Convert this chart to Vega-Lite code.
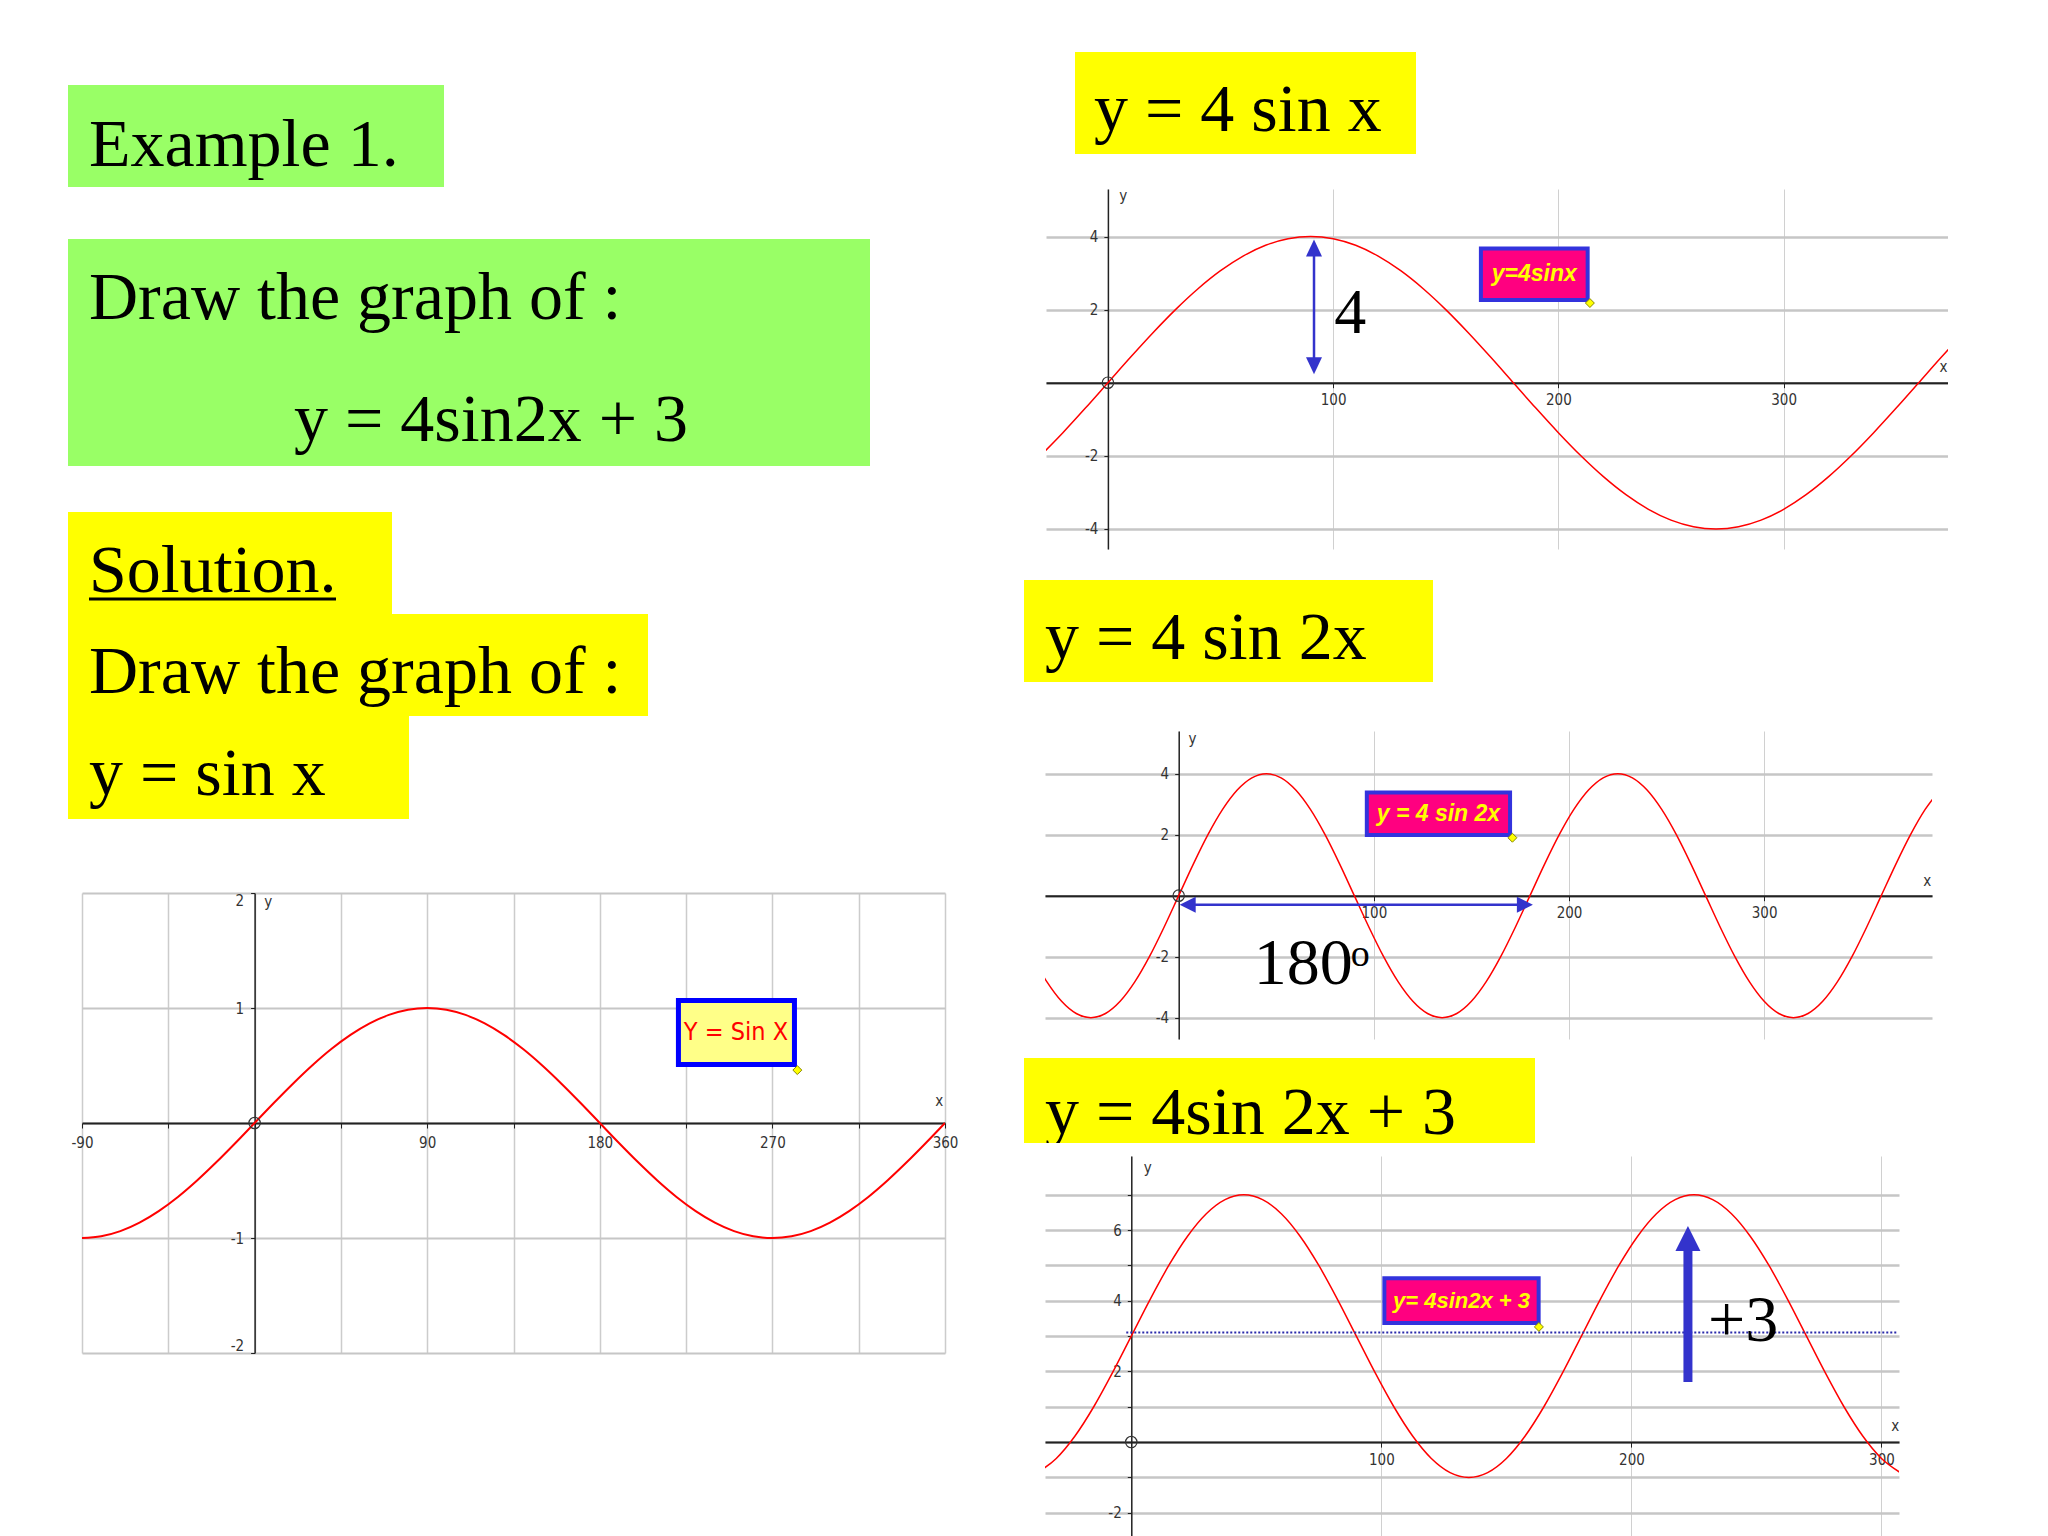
{
  "$schema": "https://vega.github.io/schema/vega-lite/v6.json",
  "padding": 0,
  "background": "white",
  "spacing": 0,
  "config": {
    "view": {"stroke": null},
    "concat": {"spacing": 0},
    "axis": {"labelFont": "DejaVu Sans Condensed", "labelFontSize": 15, "labelColor": "#333333", "tickColor": "#222222", "domainColor": "#222222", "labelOverlap": false, "tickSize": 5, "labelPadding": 6}
  },
  "data": {"values": [{}]},
  "datasets": {
    "sinx": [
      {"x": -90, "y": -1}, {"x": -80, "y": -0.985}, {"x": -70, "y": -0.94}, {"x": -60, "y": -0.866}, {"x": -50, "y": -0.766}, {"x": -40, "y": -0.643}, {"x": -30, "y": -0.5}, {"x": -20, "y": -0.342}, {"x": -10, "y": -0.174},
      {"x": 0, "y": 0}, {"x": 10, "y": 0.174}, {"x": 20, "y": 0.342}, {"x": 30, "y": 0.5}, {"x": 40, "y": 0.643}, {"x": 50, "y": 0.766}, {"x": 60, "y": 0.866}, {"x": 70, "y": 0.94}, {"x": 80, "y": 0.985}, {"x": 90, "y": 1},
      {"x": 100, "y": 0.985}, {"x": 110, "y": 0.94}, {"x": 120, "y": 0.866}, {"x": 130, "y": 0.766}, {"x": 140, "y": 0.643}, {"x": 150, "y": 0.5}, {"x": 160, "y": 0.342}, {"x": 170, "y": 0.174}, {"x": 180, "y": 0},
      {"x": 190, "y": -0.174}, {"x": 200, "y": -0.342}, {"x": 210, "y": -0.5}, {"x": 220, "y": -0.643}, {"x": 230, "y": -0.766}, {"x": 240, "y": -0.866}, {"x": 250, "y": -0.94}, {"x": 260, "y": -0.985}, {"x": 270, "y": -1},
      {"x": 280, "y": -0.985}, {"x": 290, "y": -0.94}, {"x": 300, "y": -0.866}, {"x": 310, "y": -0.766}, {"x": 320, "y": -0.643}, {"x": 330, "y": -0.5}, {"x": 340, "y": -0.342}, {"x": 350, "y": -0.174}, {"x": 360, "y": 0}
    ],
    "s4x": [
      {"x": -30, "y": -2}, {"x": -20, "y": -1.368}, {"x": -10, "y": -0.695}, {"x": 0, "y": 0}, {"x": 10, "y": 0.695}, {"x": 20, "y": 1.368}, {"x": 30, "y": 2}, {"x": 40, "y": 2.571}, {"x": 50, "y": 3.064}, {"x": 60, "y": 3.464},
      {"x": 70, "y": 3.759}, {"x": 80, "y": 3.939}, {"x": 90, "y": 4}, {"x": 100, "y": 3.939}, {"x": 110, "y": 3.759}, {"x": 120, "y": 3.464}, {"x": 130, "y": 3.064}, {"x": 140, "y": 2.571}, {"x": 150, "y": 2}, {"x": 160, "y": 1.368},
      {"x": 170, "y": 0.695}, {"x": 180, "y": 0}, {"x": 190, "y": -0.695}, {"x": 200, "y": -1.368}, {"x": 210, "y": -2}, {"x": 220, "y": -2.571}, {"x": 230, "y": -3.064}, {"x": 240, "y": -3.464}, {"x": 250, "y": -3.759}, {"x": 260, "y": -3.939},
      {"x": 270, "y": -4}, {"x": 280, "y": -3.939}, {"x": 290, "y": -3.759}, {"x": 300, "y": -3.464}, {"x": 310, "y": -3.064}, {"x": 320, "y": -2.571}, {"x": 330, "y": -2}, {"x": 340, "y": -1.368}, {"x": 350, "y": -0.695}, {"x": 360, "y": 0},
      {"x": 370, "y": 0.695}, {"x": 380, "y": 1.368}
    ],
    "s42x": [
      {"x": -75, "y": -2}, {"x": -67.5, "y": -2.828}, {"x": -60, "y": -3.464}, {"x": -52.5, "y": -3.864}, {"x": -45, "y": -4}, {"x": -37.5, "y": -3.864}, {"x": -30, "y": -3.464}, {"x": -22.5, "y": -2.828}, {"x": -15, "y": -2}, {"x": -7.5, "y": -1.035},
      {"x": 0, "y": 0}, {"x": 7.5, "y": 1.035}, {"x": 15, "y": 2}, {"x": 22.5, "y": 2.828}, {"x": 30, "y": 3.464}, {"x": 37.5, "y": 3.864}, {"x": 45, "y": 4}, {"x": 52.5, "y": 3.864}, {"x": 60, "y": 3.464}, {"x": 67.5, "y": 2.828},
      {"x": 75, "y": 2}, {"x": 82.5, "y": 1.035}, {"x": 90, "y": 0}, {"x": 97.5, "y": -1.035}, {"x": 105, "y": -2}, {"x": 112.5, "y": -2.828}, {"x": 120, "y": -3.464}, {"x": 127.5, "y": -3.864}, {"x": 135, "y": -4}, {"x": 142.5, "y": -3.864},
      {"x": 150, "y": -3.464}, {"x": 157.5, "y": -2.828}, {"x": 165, "y": -2}, {"x": 172.5, "y": -1.035}, {"x": 180, "y": 0}, {"x": 187.5, "y": 1.035}, {"x": 195, "y": 2}, {"x": 202.5, "y": 2.828}, {"x": 210, "y": 3.464}, {"x": 217.5, "y": 3.864},
      {"x": 225, "y": 4}, {"x": 232.5, "y": 3.864}, {"x": 240, "y": 3.464}, {"x": 247.5, "y": 2.828}, {"x": 255, "y": 2}, {"x": 262.5, "y": 1.035}, {"x": 270, "y": 0}, {"x": 277.5, "y": -1.035}, {"x": 285, "y": -2}, {"x": 292.5, "y": -2.828},
      {"x": 300, "y": -3.464}, {"x": 307.5, "y": -3.864}, {"x": 315, "y": -4}, {"x": 322.5, "y": -3.864}, {"x": 330, "y": -3.464}, {"x": 337.5, "y": -2.828}, {"x": 345, "y": -2}, {"x": 352.5, "y": -1.035}, {"x": 360, "y": 0}, {"x": 367.5, "y": 1.035},
      {"x": 375, "y": 2}, {"x": 382.5, "y": 2.828}, {"x": 390, "y": 3.464}
    ],
    "s42x3": [
      {"x": -37.5, "y": -0.864}, {"x": -30, "y": -0.464}, {"x": -22.5, "y": 0.172}, {"x": -15, "y": 1}, {"x": -7.5, "y": 1.965}, {"x": 0, "y": 3}, {"x": 7.5, "y": 4.035}, {"x": 15, "y": 5}, {"x": 22.5, "y": 5.828}, {"x": 30, "y": 6.464},
      {"x": 37.5, "y": 6.864}, {"x": 45, "y": 7}, {"x": 52.5, "y": 6.864}, {"x": 60, "y": 6.464}, {"x": 67.5, "y": 5.828}, {"x": 75, "y": 5}, {"x": 82.5, "y": 4.035}, {"x": 90, "y": 3}, {"x": 97.5, "y": 1.965}, {"x": 105, "y": 1},
      {"x": 112.5, "y": 0.172}, {"x": 120, "y": -0.464}, {"x": 127.5, "y": -0.864}, {"x": 135, "y": -1}, {"x": 142.5, "y": -0.864}, {"x": 150, "y": -0.464}, {"x": 157.5, "y": 0.172}, {"x": 165, "y": 1}, {"x": 172.5, "y": 1.965}, {"x": 180, "y": 3},
      {"x": 187.5, "y": 4.035}, {"x": 195, "y": 5}, {"x": 202.5, "y": 5.828}, {"x": 210, "y": 6.464}, {"x": 217.5, "y": 6.864}, {"x": 225, "y": 7}, {"x": 232.5, "y": 6.864}, {"x": 240, "y": 6.464}, {"x": 247.5, "y": 5.828}, {"x": 255, "y": 5},
      {"x": 262.5, "y": 4.035}, {"x": 270, "y": 3}, {"x": 277.5, "y": 1.965}, {"x": 285, "y": 1}, {"x": 292.5, "y": 0.172}, {"x": 300, "y": -0.464}, {"x": 307.5, "y": -0.864}
    ]
  },
  "hconcat": [
    {"width": 68, "height": 20, "mark": {"type": "text", "fontSize": 1, "opacity": 0}, "encoding": {"text": {"value": ""}}},
    {
      "spacing": 0,
      "vconcat": [
        {"width": 10, "height": 85, "mark": {"type": "text", "fontSize": 1, "opacity": 0}, "encoding": {"text": {"value": ""}}},
        {
          "width": 376, "height": 102,
          "view": {"fill": "#99ff66", "stroke": null},
          "mark": {"type": "text", "font": "Liberation Serif", "fontSize": 68, "align": "left", "baseline": "alphabetic", "color": "#000000"},
          "encoding": {"x": {"value": 21}, "y": {"value": 81}, "text": {"value": "Example 1."}}
        },
        {"width": 10, "height": 52, "mark": {"type": "text", "fontSize": 1, "opacity": 0}, "encoding": {"text": {"value": ""}}},
        {
          "width": 802, "height": 227,
          "view": {"fill": "#99ff66", "stroke": null},
          "layer": [
            {"mark": {"type": "text", "font": "Liberation Serif", "fontSize": 68, "align": "left", "baseline": "alphabetic", "color": "#000000"},
             "encoding": {"x": {"value": 21}, "y": {"value": 80}, "text": {"value": "Draw the graph of :"}}},
            {"mark": {"type": "text", "font": "Liberation Serif", "fontSize": 68, "align": "left", "baseline": "alphabetic", "color": "#000000"},
             "encoding": {"x": {"value": 226}, "y": {"value": 202}, "text": {"value": "y = 4sin2x + 3"}}}
          ]
        },
        {"width": 10, "height": 46, "mark": {"type": "text", "fontSize": 1, "opacity": 0}, "encoding": {"text": {"value": ""}}},
        {
          "width": 324, "height": 102,
          "view": {"fill": "#ffff00", "stroke": null},
          "layer": [
            {"mark": {"type": "text", "font": "Liberation Serif", "fontSize": 68, "align": "left", "baseline": "alphabetic", "color": "#000000"},
             "encoding": {"x": {"value": 21}, "y": {"value": 80}, "text": {"value": "Solution."}}},
            {"mark": {"type": "rule", "color": "#000000", "strokeWidth": 3},
             "encoding": {"x": {"value": 21}, "x2": {"value": 268}, "y": {"value": 87}}}
          ]
        },
        {
          "width": 580, "height": 102,
          "view": {"fill": "#ffff00", "stroke": null},
          "mark": {"type": "text", "font": "Liberation Serif", "fontSize": 68, "align": "left", "baseline": "alphabetic", "color": "#000000"},
          "encoding": {"x": {"value": 21}, "y": {"value": 79}, "text": {"value": "Draw the graph of :"}}
        },
        {
          "width": 341, "height": 103,
          "view": {"fill": "#ffff00", "stroke": null},
          "mark": {"type": "text", "font": "Liberation Serif", "fontSize": 68, "align": "left", "baseline": "alphabetic", "color": "#000000"},
          "encoding": {"x": {"value": 21}, "y": {"value": 79}, "text": {"value": "y = sin x"}}
        },
        {"width": 10, "height": 73, "mark": {"type": "text", "fontSize": 1, "opacity": 0}, "encoding": {"text": {"value": ""}}},
        {
          "spacing": 0,
          "hconcat": [
            {"width": 2, "height": 20, "mark": {"type": "text", "fontSize": 1, "opacity": 0}, "encoding": {"text": {"value": ""}}},
            {
              "width": 863, "height": 460,
              "layer": [
                {
                  "data": {"name": "sinx"},
                  "mark": {"type": "line", "color": "#ff0000", "strokeWidth": 2, "interpolate": "monotone", "clip": true},
                  "encoding": {
                    "x": {"field": "x", "type": "quantitative", "scale": {"domain": [-90, 360], "nice": false, "zero": false},
                          "axis": {"title": null, "orient": "bottom", "offset": -230, "values": [-90, -45, 0, 45, 90, 135, 180, 225, 270, 315, 360],
                                   "labelExpr": "datum.value % 90 == 0 && datum.value != 0 ? '' + datum.value : ''", "labelFlush": false,
                                   "grid": true, "gridColor": "#cccccc", "gridWidth": 1.5, "domainWidth": 2, "tickSize": 5, "labelPadding": 7}},
                    "y": {"field": "y", "type": "quantitative", "scale": {"domain": [-2, 2], "nice": false, "zero": false},
                          "axis": {"title": null, "orient": "left", "offset": -172.6, "values": [-2, -1, 0, 1, 2],
                                   "labelExpr": "datum.value == 0 ? '' : '' + datum.value", "labelFlush": true,
                                   "grid": true, "gridColor": "#c6c6c6", "gridWidth": 2, "domainWidth": 1.5, "tickSize": 4, "labelPadding": 7}}
                  }
                },
                {"mark": {"type": "point", "shape": "circle", "size": 130, "filled": false, "stroke": "#333333", "strokeWidth": 1.2, "opacity": 1},
                 "encoding": {"x": {"datum": 0}, "y": {"datum": 0}}},
                {"mark": {"type": "rect", "fill": "#ffff88", "stroke": "#0000ff", "strokeWidth": 5},
                 "encoding": {"x": {"datum": 221}, "x2": {"datum": 281.5}, "y": {"datum": 1.066}, "y2": {"datum": 0.509}}},
                {"mark": {"type": "text", "font": "DejaVu Sans Condensed", "fontSize": 25, "color": "#ff0000", "align": "center", "baseline": "middle"},
                 "encoding": {"x": {"datum": 251}, "y": {"datum": 0.79}, "text": {"value": "Y = Sin X"}}},
                {"mark": {"type": "point", "shape": "diamond", "filled": true, "fill": "#ffff00", "stroke": "#888800", "strokeWidth": 1, "size": 80, "opacity": 1},
                 "encoding": {"x": {"datum": 283}, "y": {"datum": 0.46}}},
                {"mark": {"type": "text", "font": "DejaVu Sans Condensed", "fontSize": 15, "color": "#333333", "align": "center", "baseline": "bottom"},
                 "encoding": {"x": {"datum": 357}, "y": {"datum": 0.12}, "text": {"value": "x"}}},
                {"mark": {"type": "text", "font": "DejaVu Sans Condensed", "fontSize": 15, "color": "#333333", "align": "left", "baseline": "middle"},
                 "encoding": {"x": {"datum": 5}, "y": {"datum": 1.92}, "text": {"value": "y"}}}
              ]
            }
          ]
        }
      ]
    },
    {"width": 66, "height": 20, "mark": {"type": "text", "fontSize": 1, "opacity": 0}, "encoding": {"text": {"value": ""}}},
    {
      "spacing": 0,
      "vconcat": [
        {"width": 10, "height": 52, "mark": {"type": "text", "fontSize": 1, "opacity": 0}, "encoding": {"text": {"value": ""}}},
        {
          "spacing": 0,
          "hconcat": [
            {"width": 51, "height": 20, "mark": {"type": "text", "fontSize": 1, "opacity": 0}, "encoding": {"text": {"value": ""}}},
            {
              "width": 341, "height": 102,
              "view": {"fill": "#ffff00", "stroke": null},
              "mark": {"type": "text", "font": "Liberation Serif", "fontSize": 68, "align": "left", "baseline": "alphabetic", "color": "#000000"},
              "encoding": {"x": {"value": 19}, "y": {"value": 79}, "text": {"value": "y = 4 sin x"}}
            }
          ]
        },
        {"width": 10, "height": 35, "mark": {"type": "text", "fontSize": 1, "opacity": 0}, "encoding": {"text": {"value": ""}}},
        {
          "spacing": 0,
          "hconcat": [
            {"width": 22, "height": 20, "mark": {"type": "text", "fontSize": 1, "opacity": 0}, "encoding": {"text": {"value": ""}}},
            {
              "width": 902, "height": 360,
              "layer": [
                {
                  "data": {"name": "s4x"},
                  "mark": {"type": "line", "color": "#ff0000", "strokeWidth": 1.5, "interpolate": "monotone", "clip": true},
                  "encoding": {
                    "x": {"field": "x", "type": "quantitative", "scale": {"domain": [-27.5, 373], "nice": false, "zero": false},
                          "axis": {"title": null, "orient": "bottom", "offset": -166.3, "values": [0, 100, 200, 300],
                                   "labelExpr": "datum.value == 0 ? '' : '' + datum.value",
                                   "grid": true, "gridColor": "#d0d0d0", "gridWidth": 1, "domainWidth": 2, "tickSize": 5, "labelPadding": 5}},
                    "y": {"field": "y", "type": "quantitative", "scale": {"domain": [-4.55, 5.3], "nice": false, "zero": false},
                          "axis": {"title": null, "orient": "left", "offset": -61.9, "values": [-4, -3, -2, -1, 0, 1, 2, 3, 4, 5],
                                   "labelExpr": "datum.value != 0 && datum.value % 2 == 0 ? '' + datum.value : ''",
                                   "grid": true, "gridColor": "#c6c6c6", "gridWidth": 2.5, "domainWidth": 1.5, "tickSize": 4, "labelPadding": 6}}
                  }
                },
                {"mark": {"type": "point", "shape": "circle", "size": 130, "filled": false, "stroke": "#333333", "strokeWidth": 1.2, "opacity": 1},
                 "encoding": {"x": {"datum": 0}, "y": {"datum": 0}}},
                {"mark": {"type": "rule", "color": "#3333cc", "strokeWidth": 2.5},
                 "encoding": {"x": {"datum": 91.5}, "y": {"datum": 0.55}, "y2": {"datum": 3.6}}},
                {"mark": {"type": "point", "shape": "M0,0L-0.47,1L0.47,1Z", "size": 1156, "filled": true, "color": "#3333cc", "opacity": 1},
                 "encoding": {"x": {"datum": 91.5}, "y": {"datum": 3.92}}},
                {"mark": {"type": "point", "shape": "M0,0L-0.47,-1L0.47,-1Z", "size": 1156, "filled": true, "color": "#3333cc", "opacity": 1},
                 "encoding": {"x": {"datum": 91.5}, "y": {"datum": 0.23}}},
                {"mark": {"type": "text", "font": "Liberation Serif", "fontSize": 64, "color": "#000000", "align": "left", "baseline": "alphabetic"},
                 "encoding": {"x": {"datum": 100.5}, "y": {"datum": 1.35}, "text": {"value": "4"}}},
                {"mark": {"type": "rect", "fill": "#ff0080", "stroke": "#3333dd", "strokeWidth": 4},
                 "encoding": {"x": {"datum": 165.6}, "x2": {"datum": 213}, "y": {"datum": 3.67}, "y2": {"datum": 2.26}}},
                {"mark": {"type": "text", "font": "Liberation Sans", "fontSize": 23, "fontStyle": "italic", "fontWeight": "bold", "color": "#ffff00", "align": "center", "baseline": "middle"},
                 "encoding": {"x": {"datum": 189.3}, "y": {"datum": 2.97}, "text": {"value": "y=4sinx"}}},
                {"mark": {"type": "point", "shape": "diamond", "filled": true, "fill": "#ffff00", "stroke": "#888800", "strokeWidth": 1, "size": 80, "opacity": 1},
                 "encoding": {"x": {"datum": 214}, "y": {"datum": 2.18}}},
                {"mark": {"type": "text", "font": "DejaVu Sans Condensed", "fontSize": 15, "color": "#333333", "align": "center", "baseline": "bottom"},
                 "encoding": {"x": {"datum": 371}, "y": {"datum": 0.2}, "text": {"value": "x"}}},
                {"mark": {"type": "text", "font": "DejaVu Sans Condensed", "fontSize": 15, "color": "#333333", "align": "left", "baseline": "middle"},
                 "encoding": {"x": {"datum": 5}, "y": {"datum": 5.1}, "text": {"value": "y"}}}
              ]
            }
          ]
        },
        {"width": 10, "height": 31, "mark": {"type": "text", "fontSize": 1, "opacity": 0}, "encoding": {"text": {"value": ""}}},
        {
          "width": 409, "height": 102,
          "view": {"fill": "#ffff00", "stroke": null},
          "mark": {"type": "text", "font": "Liberation Serif", "fontSize": 68, "align": "left", "baseline": "alphabetic", "color": "#000000"},
          "encoding": {"x": {"value": 21}, "y": {"value": 79}, "text": {"value": "y = 4 sin 2x"}}
        },
        {"width": 10, "height": 49, "mark": {"type": "text", "fontSize": 1, "opacity": 0}, "encoding": {"text": {"value": ""}}},
        {
          "spacing": 0,
          "hconcat": [
            {"width": 21, "height": 20, "mark": {"type": "text", "fontSize": 1, "opacity": 0}, "encoding": {"text": {"value": ""}}},
            {
              "width": 887, "height": 308,
              "layer": [
                {
                  "data": {"name": "s42x"},
                  "mark": {"type": "line", "color": "#ff0000", "strokeWidth": 1.5, "interpolate": "monotone", "clip": true},
                  "encoding": {
                    "x": {"field": "x", "type": "quantitative", "scale": {"domain": [-68.5, 386], "nice": false, "zero": false},
                          "axis": {"title": null, "orient": "bottom", "offset": -143.3, "values": [0, 100, 200, 300],
                                   "labelExpr": "datum.value == 0 ? '' : '' + datum.value",
                                   "grid": true, "gridColor": "#d0d0d0", "gridWidth": 1, "domainWidth": 2, "tickSize": 5, "labelPadding": 5}},
                    "y": {"field": "y", "type": "quantitative", "scale": {"domain": [-4.7, 5.4], "nice": false, "zero": false},
                          "axis": {"title": null, "orient": "left", "offset": -133.7, "values": [-4, -3, -2, -1, 0, 1, 2, 3, 4, 5],
                                   "labelExpr": "datum.value != 0 && datum.value % 2 == 0 ? '' + datum.value : ''",
                                   "grid": true, "gridColor": "#c6c6c6", "gridWidth": 2.5, "domainWidth": 1.5, "tickSize": 4, "labelPadding": 6}}
                  }
                },
                {"mark": {"type": "point", "shape": "circle", "size": 130, "filled": false, "stroke": "#333333", "strokeWidth": 1.2, "opacity": 1},
                 "encoding": {"x": {"datum": 0}, "y": {"datum": 0}}},
                {"mark": {"type": "rule", "color": "#3333cc", "strokeWidth": 2.5},
                 "encoding": {"x": {"datum": 7}, "x2": {"datum": 175}, "y": {"datum": -0.3}}},
                {"mark": {"type": "point", "shape": "M0,0L1,-0.5L1,0.5Z", "size": 1024, "filled": true, "color": "#3333cc", "opacity": 1},
                 "encoding": {"x": {"datum": 0.5}, "y": {"datum": -0.3}}},
                {"mark": {"type": "point", "shape": "M0,0L-1,-0.5L-1,0.5Z", "size": 1024, "filled": true, "color": "#3333cc", "opacity": 1},
                 "encoding": {"x": {"datum": 181.5}, "y": {"datum": -0.3}}},
                {"mark": {"type": "text", "font": "Liberation Serif", "fontSize": 66, "color": "#000000", "align": "left", "baseline": "alphabetic"},
                 "encoding": {"x": {"datum": 38.5}, "y": {"datum": -2.89}, "text": {"value": "180"}}},
                {"mark": {"type": "text", "font": "Liberation Serif", "fontSize": 38, "color": "#000000", "align": "left", "baseline": "alphabetic"},
                 "encoding": {"x": {"datum": 88.2}, "y": {"datum": -2.3}, "text": {"value": "o"}}},
                {"mark": {"type": "rect", "fill": "#ff0080", "stroke": "#3333dd", "strokeWidth": 4},
                 "encoding": {"x": {"datum": 96.4}, "x2": {"datum": 169.8}, "y": {"datum": 3.38}, "y2": {"datum": 1.99}}},
                {"mark": {"type": "text", "font": "Liberation Sans", "fontSize": 23, "fontStyle": "italic", "fontWeight": "bold", "color": "#ffff00", "align": "center", "baseline": "middle"},
                 "encoding": {"x": {"datum": 133.1}, "y": {"datum": 2.68}, "text": {"value": "y = 4 sin 2x"}}},
                {"mark": {"type": "point", "shape": "diamond", "filled": true, "fill": "#ffff00", "stroke": "#888800", "strokeWidth": 1, "size": 80, "opacity": 1},
                 "encoding": {"x": {"datum": 171}, "y": {"datum": 1.9}}},
                {"mark": {"type": "text", "font": "DejaVu Sans Condensed", "fontSize": 15, "color": "#333333", "align": "center", "baseline": "bottom"},
                 "encoding": {"x": {"datum": 383.5}, "y": {"datum": 0.22}, "text": {"value": "x"}}},
                {"mark": {"type": "text", "font": "DejaVu Sans Condensed", "fontSize": 15, "color": "#333333", "align": "left", "baseline": "middle"},
                 "encoding": {"x": {"datum": 5}, "y": {"datum": 5.15}, "text": {"value": "y"}}}
              ]
            }
          ]
        },
        {"width": 10, "height": 19, "mark": {"type": "text", "fontSize": 1, "opacity": 0}, "encoding": {"text": {"value": ""}}},
        {
          "width": 511, "height": 85,
          "view": {"fill": "#ffff00", "stroke": null},
          "mark": {"type": "text", "font": "Liberation Serif", "fontSize": 68, "align": "left", "baseline": "alphabetic", "color": "#000000", "clip": true},
          "encoding": {"x": {"value": 21}, "y": {"value": 76}, "text": {"value": "y = 4sin 2x + 3"}}
        },
        {"width": 10, "height": 13, "mark": {"type": "text", "fontSize": 1, "opacity": 0}, "encoding": {"text": {"value": ""}}},
        {
          "spacing": 0,
          "hconcat": [
            {"width": 21, "height": 20, "mark": {"type": "text", "fontSize": 1, "opacity": 0}, "encoding": {"text": {"value": ""}}},
            {
              "width": 854, "height": 380,
              "layer": [
                {
                  "data": {"name": "s42x3"},
                  "mark": {"type": "line", "color": "#ff0000", "strokeWidth": 1.5, "interpolate": "monotone", "clip": true},
                  "encoding": {
                    "x": {"field": "x", "type": "quantitative", "scale": {"domain": [-34.5, 307], "nice": false, "zero": false},
                          "axis": {"title": null, "orient": "bottom", "offset": -93.9, "values": [0, 100, 200, 300],
                                   "labelExpr": "datum.value == 0 ? '' : '' + datum.value",
                                   "grid": true, "gridColor": "#d0d0d0", "gridWidth": 1, "domainWidth": 2, "tickSize": 5, "labelPadding": 5}},
                    "y": {"field": "y", "type": "quantitative", "scale": {"domain": [-2.66, 8.1], "nice": false, "zero": false},
                          "axis": {"title": null, "orient": "left", "offset": -86.3, "values": [-2, -1, 0, 1, 2, 3, 4, 5, 6, 7],
                                   "labelExpr": "datum.value != 0 && datum.value % 2 == 0 ? '' + datum.value : ''",
                                   "grid": true, "gridColor": "#c6c6c6", "gridWidth": 2.5, "domainWidth": 1.5, "tickSize": 4, "labelPadding": 6}}
                  }
                },
                {"mark": {"type": "rule", "color": "#2a2aaa", "strokeWidth": 2, "strokeDash": [2, 2]},
                 "encoding": {"x": {"datum": -2}, "x2": {"datum": 306}, "y": {"datum": 3.1}}},
                {"mark": {"type": "point", "shape": "circle", "size": 130, "filled": false, "stroke": "#333333", "strokeWidth": 1.2, "opacity": 1},
                 "encoding": {"x": {"datum": 0}, "y": {"datum": 0}}},
                {"mark": {"type": "rule", "color": "#3333cc", "strokeWidth": 9},
                 "encoding": {"x": {"datum": 222.6}, "y": {"datum": 1.7}, "y2": {"datum": 5.45}}},
                {"mark": {"type": "point", "shape": "M0,0L-0.5,1L0.5,1Z", "size": 2500, "filled": true, "color": "#3333cc", "opacity": 1},
                 "encoding": {"x": {"datum": 222.6}, "y": {"datum": 6.12}}},
                {"mark": {"type": "text", "font": "Liberation Serif", "fontSize": 66, "color": "#000000", "align": "left", "baseline": "alphabetic"},
                 "encoding": {"x": {"datum": 230.6}, "y": {"datum": 2.86}, "text": {"value": "+3"}}},
                {"mark": {"type": "rect", "fill": "#ff0080", "stroke": "#3333dd", "strokeWidth": 4},
                 "encoding": {"x": {"datum": 101.2}, "x2": {"datum": 162.9}, "y": {"datum": 4.64}, "y2": {"datum": 3.37}}},
                {"mark": {"type": "text", "font": "Liberation Sans", "fontSize": 22, "fontStyle": "italic", "fontWeight": "bold", "color": "#ffff00", "align": "center", "baseline": "middle"},
                 "encoding": {"x": {"datum": 132.05}, "y": {"datum": 4.0}, "text": {"value": "y= 4sin2x + 3"}}},
                {"mark": {"type": "point", "shape": "diamond", "filled": true, "fill": "#ffff00", "stroke": "#888800", "strokeWidth": 1, "size": 80, "opacity": 1},
                 "encoding": {"x": {"datum": 163}, "y": {"datum": 3.26}}},
                {"mark": {"type": "text", "font": "DejaVu Sans Condensed", "fontSize": 15, "color": "#333333", "align": "center", "baseline": "bottom"},
                 "encoding": {"x": {"datum": 305.5}, "y": {"datum": 0.22}, "text": {"value": "x"}}},
                {"mark": {"type": "text", "font": "DejaVu Sans Condensed", "fontSize": 15, "color": "#333333", "align": "left", "baseline": "middle"},
                 "encoding": {"x": {"datum": 5}, "y": {"datum": 7.75}, "text": {"value": "y"}}}
              ]
            }
          ]
        }
      ]
    }
  ]
}
